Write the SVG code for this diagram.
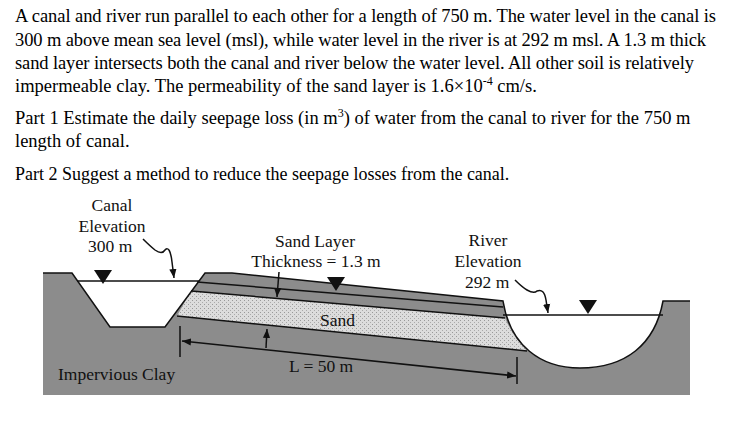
<svg xmlns="http://www.w3.org/2000/svg" width="732" height="424" viewBox="0 0 732 424">
<style>
text{font-family:"Liberation Serif","Times New Roman",serif;fill:#000}
.p{font-size:18.5px}
.l{font-size:17.5px;fill:#111}
.ln{stroke:#111;stroke-width:1.5;fill:none}
</style>
<defs>
<pattern id="sand" width="4" height="4" patternUnits="userSpaceOnUse"><rect width="4" height="4" fill="#dcdcdc"/><rect width="1" height="1" fill="#999"/><rect x="2" y="2" width="1" height="1" fill="#aaa"/></pattern>
<marker id="ah" viewBox="0 0 10 10" refX="10" refY="5" markerWidth="9" markerHeight="9" orient="auto-start-reverse" markerUnits="userSpaceOnUse"><path d="M0,1 L10,5 L0,9z" fill="#111"/></marker>
</defs>
<rect width="732" height="424" fill="#fff"/>
<g id="problem">
<text class="p" x="15" y="22" textLength="701" lengthAdjust="spacing">A canal and river run parallel to each other for a length of 750 m.  The water level in the canal is</text>
<text class="p" x="15" y="46" textLength="691" lengthAdjust="spacing">300 m above mean sea level (msl), while water level in the river is at 292 m msl.  A 1.3 m thick</text>
<text class="p" x="15" y="69" textLength="679" lengthAdjust="spacing">sand layer intersects both the canal and river below the water level.  All other soil is relatively</text>
<text class="p" x="15" y="92">impermeable clay.  The permeability of the sand layer is 1.6×10<tspan dy="-7" font-size="12">-4</tspan><tspan dy="7"> cm/s.</tspan></text>
<text class="p" x="15" y="124" font-size="18">Part 1  Estimate the daily seepage loss (in m<tspan dy="-7" font-size="12">3</tspan><tspan dy="7">) of water from the canal to river for the 750 m</tspan></text>
<text class="p" x="15" y="147">length of canal.</text>
<text class="p" x="15" y="180" style="font-size:18px">Part 2  Suggest a method to reduce the seepage losses from the canal.</text>
</g>
<g id="ground">
<path d="M43,273 L72,273 L110,327 L165,327 L205,273 L232,273 L503,301 C510,345 540,368 580,368 C625,368 655,345 663,301 L690,301 L690,395 L43,395z" fill="#8c8c8c" stroke="none"/>
<path d="M191,291 L505,318 C510,330 518,342 527,351 L177,316z" fill="url(#sand)"/>
<path class="ln" d="M43,273 L72,273 L110,327 L165,327 L205,273 L232,273 L503,301 C510,345 540,368 580,368 C625,368 655,345 663,301 L690,301"/>
<path class="ln" d="M197,282 L503,307"/>
<path class="ln" d="M191,291 L505,318"/>
<path class="ln" d="M177,316 L527,351"/>
</g>
<g id="water">
<line class="ln" x1="77" y1="281" x2="199" y2="281"/>
<line class="ln" x1="503" y1="315" x2="663" y2="315"/>
<path d="M94,270 L112,270 L103,284z" fill="#111"/>
<path d="M327,277 L345,277 L336,291z" fill="#111"/>
<path d="M579,300 L597,300 L588,314z" fill="#111"/>
</g>
<g id="labels">
<text class="l" x="112" y="211" text-anchor="middle">Canal</text>
<text class="l" x="112" y="232" text-anchor="middle">Elevation</text>
<text class="l" x="88" y="252">300 m</text>
<text class="l" x="315" y="247" text-anchor="middle">Sand Layer</text>
<text class="l" x="316" y="267" text-anchor="middle">Thickness = 1.3 m</text>
<text class="l" x="488" y="246" text-anchor="middle">River</text>
<text class="l" x="488" y="267" text-anchor="middle">Elevation</text>
<text class="l" x="465" y="288">292 m</text>
<text class="l" x="320" y="326">Sand</text>
<text class="l" x="289" y="372">L = 50 m</text>
<text class="l" x="58" y="380">Impervious Clay</text>
</g>
<g id="connectors">
<path class="ln" d="M143,239 Q150,246 155,250 Q162,255 165,250 Q170,245 172,262 L174,278" marker-end="url(#ah)"/>
<path class="ln" d="M515,280 Q522,287 527,290 Q534,294 537,291 Q544,288 546,300 L548,313" marker-end="url(#ah)"/>
<line class="ln" x1="279" y1="272" x2="277" y2="297" marker-end="url(#ah)"/>
<line class="ln" x1="266" y1="348" x2="267" y2="329" marker-end="url(#ah)"/>
<line class="ln" x1="180" y1="326" x2="180" y2="357"/>
<line class="ln" x1="517" y1="357" x2="517" y2="384"/>
<line class="ln" x1="182" y1="341" x2="516" y2="376" marker-start="url(#ah)" marker-end="url(#ah)"/>
</g>
</svg>
